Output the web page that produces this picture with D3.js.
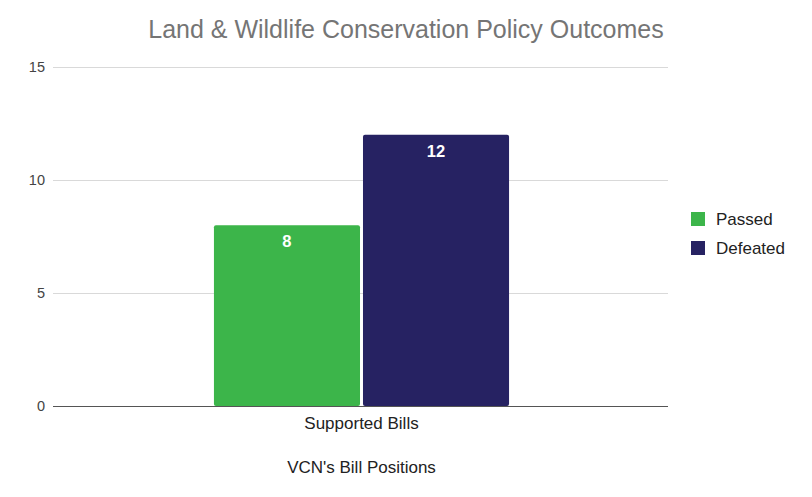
<!DOCTYPE html>
<html lang="en">
<head>
    <title>Land & Wildlife Conservation Policy Outcomes</title>
    <script src="https://cdnjs.cloudflare.com/ajax/libs/d3/7.8.5/d3.min.js"></script>
    <style>
        body { margin: 0; background: #fff; }
        svg { font-family: "Liberation Sans", Arial, sans-serif; display: block; }
    </style>
</head>
<body>
    <svg width="812" height="497"></svg>

    <script>
        const categories = ["Supported Bills"];
        const seriesNames = ["Passed", "Defeated"];
        const passedValues = [8];
        const defeatedValues = [12];
        const yTicks = [0, 5, 10, 15];
        const colors = ["#3cb54a", "#262262"];

        const svg = d3.select("svg"),
              width = +svg.attr("width"),
              height = +svg.attr("height");

        const margin = { top: 67, right: 143, bottom: 91, left: 54 };
        const plotW = width - margin.left - margin.right;
        const plotH = height - margin.top - margin.bottom;

        const rows = categories.map((c, i) => ({
            category: c,
            values: [passedValues[i], defeatedValues[i]]
        }));

        const x0 = d3.scaleBand()
            .domain(categories)
            .range([margin.left, margin.left + plotW])
            .paddingInner(0)
            .paddingOuter(0.542);

        const x1 = d3.scaleBand()
            .domain(seriesNames)
            .range([0, x0.bandwidth()])
            .paddingInner(0.02);

        const y = d3.scaleLinear()
            .domain([0, 15])
            .range([margin.top + plotH, margin.top]);

        const gridX1 = 53, gridX2 = 668;

        // title
        svg.append("text")
            .attr("x", 406)
            .attr("y", 38)
            .attr("text-anchor", "middle")
            .style("font-size", "25px")
            .style("fill", "#757575")
            .text("Land & Wildlife Conservation Policy Outcomes");

        // gridlines + y labels
        const yAxis = svg.append("g");
        yAxis.selectAll("line")
            .data(yTicks)
            .enter().append("line")
            .attr("x1", gridX1)
            .attr("x2", gridX2)
            .attr("y1", d => Math.round(y(d)) + 0.5)
            .attr("y2", d => Math.round(y(d)) + 0.5)
            .attr("stroke", d => d === 0 ? "#555" : "#d9d9d9")
            .attr("stroke-width", 1);

        yAxis.selectAll("text")
            .data(yTicks)
            .enter().append("text")
            .attr("x", gridX1 - 8)
            .attr("y", d => y(d))
            .attr("dy", "0.35em")
            .attr("text-anchor", "end")
            .style("font-size", "14.5px")
            .style("fill", "#444")
            .text(d => d);

        // bars
        const group = svg.append("g")
            .selectAll("g")
            .data(rows)
            .enter().append("g")
            .attr("transform", d => `translate(${x0(d.category)},0)`);

        const bars = group.selectAll("g")
            .data(d => d.values.map((v, i) => ({ name: seriesNames[i], value: v, color: colors[i] })))
            .enter().append("g");

        bars.append("rect")
            .attr("x", d => x1(d.name))
            .attr("y", d => y(d.value))
            .attr("width", x1.bandwidth())
            .attr("height", d => y(0) - y(d.value))
            .attr("rx", 2)
            .attr("fill", d => d.color);

        bars.append("text")
            .attr("x", d => x1(d.name) + x1.bandwidth() / 2)
            .attr("y", d => y(d.value) + 22)
            .attr("text-anchor", "middle")
            .style("font-size", "16.5px")
            .style("font-weight", "bold")
            .style("fill", "#fff")
            .text(d => d.value);

        // redraw baseline on top of bars
        svg.append("line")
            .attr("x1", gridX1)
            .attr("x2", gridX2)
            .attr("y1", Math.round(y(0)) + 0.5)
            .attr("y2", Math.round(y(0)) + 0.5)
            .attr("stroke", "#555");

        // x labels
        svg.selectAll(".xlabel")
            .data(categories)
            .enter().append("text")
            .attr("class", "xlabel")
            .attr("x", d => x0(d) + x0.bandwidth() / 2)
            .attr("y", 429)
            .attr("text-anchor", "middle")
            .style("font-size", "17px")
            .style("fill", "#222")
            .text(d => d);

        svg.append("text")
            .attr("x", x0(categories[0]) + x0.bandwidth() / 2)
            .attr("y", 473)
            .attr("text-anchor", "middle")
            .style("font-size", "17px")
            .style("fill", "#222")
            .text("VCN's Bill Positions");

        // legend
        const legend = svg.append("g")
            .selectAll("g")
            .data(seriesNames)
            .enter().append("g")
            .attr("transform", (d, i) => `translate(691,${212 + i * 29})`);

        legend.append("rect")
            .attr("width", 14)
            .attr("height", 14)
            .attr("fill", (d, i) => colors[i]);

        legend.append("text")
            .attr("x", 25)
            .attr("y", 7)
            .attr("dy", "0.35em")
            .style("font-size", "17px")
            .style("fill", "#222")
            .text(d => d);
    </script>
</body>
</html>
